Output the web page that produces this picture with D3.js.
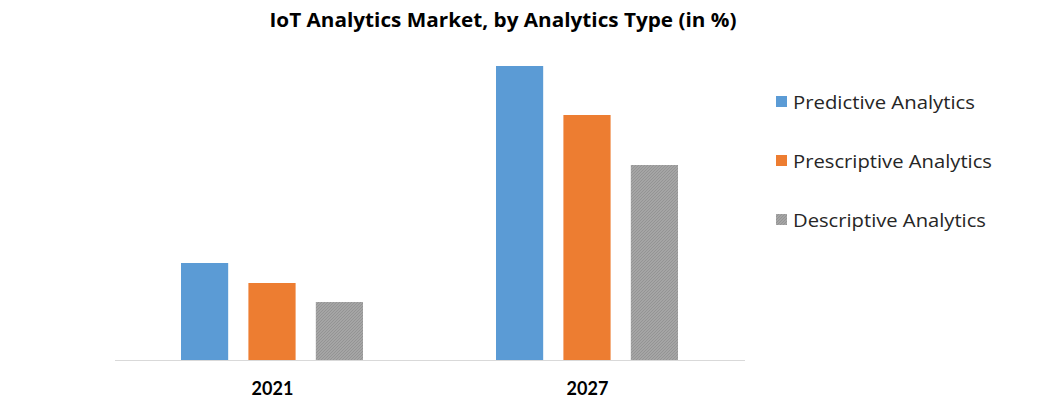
<!DOCTYPE html>
<html><head><meta charset="utf-8">
<script src="https://cdn.jsdelivr.net/npm/d3@7"></script>
<style>body{margin:0;background:#fff}</style></head>
<body><svg id="c" width="1044" height="404"></svg>
<script>
const categories = ["2021", "2027"];
const seriesNames = ["Predictive Analytics", "Prescriptive Analytics", "Descriptive Analytics"];
const predictive = [97, 294];
const prescriptive = [77, 245];
const descriptive = [58, 195];
const colors = ["#5b9bd5", "#ed7d31", "#a5a5a5"];
const series = [predictive, prescriptive, descriptive];

const svg = d3.select("#c");
const font = "Lato, 'Open Sans', sans-serif";
const font2 = "'Open Sans', sans-serif";
const defs = svg.append("defs");
const pat = defs.append("pattern").attr("id","gp").attr("width",3).attr("height",3).attr("patternUnits","userSpaceOnUse");
pat.append("rect").attr("width",3).attr("height",3).attr("fill","#a5a5a5");
pat.append("path").attr("d","M0,3L3,0").attr("stroke","#8f8f8f").attr("stroke-width",0.8);

const x0 = d3.scaleBand().domain(categories).range([115, 745]);
const x1 = d3.scaleBand().domain(d3.range(3)).range([66, 248]).paddingInner(0.3);
const y = d3.scaleLinear().domain([0, 300]).range([360, 60]);

categories.forEach((c, i) => {
  series.forEach((s, j) => {
    svg.append("rect")
      .attr("x", x0(c) + x1(j))
      .attr("width", x1.bandwidth())
      .attr("y", y(s[i]))
      .attr("height", y(0) - y(s[i]))
      .attr("fill", j === 2 ? "url(#gp)" : colors[j]);
  });
  svg.append("text").attr("x", x0(c) + x0.bandwidth()/2).attr("y", 395)
    .attr("text-anchor","middle").attr("font-family",font).attr("font-weight","bold")
    .attr("font-size",18).text(c);
});
svg.append("line").attr("x1",115).attr("x2",745).attr("y1",360.5).attr("y2",360.5).attr("stroke","#d9d9d9");

svg.append("text").attr("x",503).attr("y",27).attr("text-anchor","middle")
  .attr("font-family",font2).attr("font-weight","bold").attr("font-size",19)
  .attr("textLength",467).attr("lengthAdjust","spacingAndGlyphs")
  .text("IoT Analytics Market, by Analytics Type (in %)");

const widths = [182, 199, 193];
seriesNames.forEach((n, j) => {
  const yy = 102 + j * 59;
  svg.append("rect").attr("x",776).attr("y",yy-6).attr("width",11).attr("height",11)
    .attr("fill", j === 2 ? "url(#gp)" : colors[j]);
  svg.append("text").attr("x",793).attr("y",yy+7).attr("font-family",font2)
    .attr("font-size",18).attr("fill","#262626")
    .attr("textLength",widths[j]).attr("lengthAdjust","spacingAndGlyphs").text(n);
});
</script></body></html>
